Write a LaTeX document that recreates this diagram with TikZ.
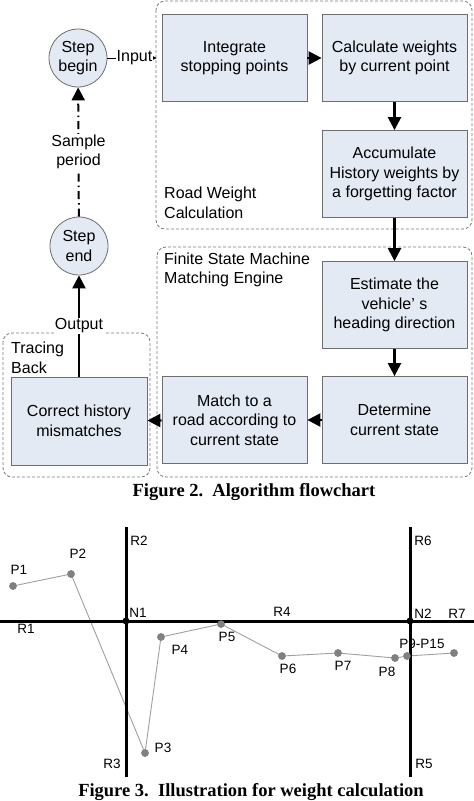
\documentclass[tikz,border=0pt]{standalone}
\usepackage{fontspec}
\setmainfont{Liberation Sans}
\newfontfamily\capfont{Liberation Serif}
\usetikzlibrary{arrows.meta}
\definecolor{boxfill}{HTML}{E4EAF4}
\definecolor{boxdraw}{HTML}{6E6E6E}
\definecolor{grp}{HTML}{7A7A7A}
\definecolor{trk}{HTML}{A0A0A0}
\definecolor{dotc}{HTML}{808080}
\begin{document}
\begin{tikzpicture}[x=1pt,y=-1pt,
  txt/.style={font=\fontsize{16}{19.5}\selectfont},
  procbox/.style={txt, draw=boxdraw, fill=boxfill, line width=0.8pt, minimum width=145pt, minimum height=87pt, align=center, inner sep=0pt},
  stepcirc/.style={txt, circle, draw=boxdraw, fill=boxfill, line width=0.8pt, minimum size=58pt, align=center, inner sep=0pt},
  grpbox/.style={draw=grp, dash pattern=on 3pt off 2pt, rounded corners=9pt, line width=0.8pt},
  grplabel/.style={txt, align=left, anchor=west, inner sep=0pt},
  flow/.style={line width=2.4pt, -{Triangle[length=13pt,width=13pt]}},
  dashdotflow/.style={line width=2pt, dash pattern=on 8pt off 4pt on 1.5pt off 4pt, -{Triangle[length=13pt,width=13pt]}},
  lbl/.style={txt, fill=white, inner sep=1pt, align=center},
  road/.style={line width=3pt},
  track/.style={draw=trk, line width=0.9pt},
  gdot/.style={circle, fill=dotc, inner sep=0pt, minimum size=7.5pt},
  ndot/.style={circle, fill=black, inner sep=0pt, minimum size=7pt},
  plbl/.style={font=\fontsize{13.5}{16}\selectfont, inner sep=0pt},
  caption/.style={font=\capfont\bfseries\fontsize{18.5}{22}\selectfont, inner sep=0pt}
]
\useasboundingbox (0,0) rectangle (474,801);

% group frames
\draw[grpbox] (156,1) rectangle (472,229);
\draw[grpbox] (157,247) rectangle (472,477);
\draw[grpbox] (3,333) rectangle (150,477);
\node[grplabel] (g1) at (164,203) {Road Weight\\Calculation};
\node[grplabel] (g2) at (164,270) {Finite State Machine\\Matching Engine};
\node[grplabel] (g3) at (11,358) {Tracing\\Back};

% process boxes
\node[procbox] (integ) at (234.5,58) {Integrate\\stopping points};
\node[procbox] (calc) at (394.5,58) {Calculate weights\\by current point};
\node[procbox] (accu) at (394.5,174) {Accumulate\\History weights by\\a forgetting factor};
\node[procbox] (esti) at (394.5,305) {Estimate the\\vehicle’\ s\\heading direction};
\node[procbox] (dete) at (394.5,420) {Determine\\current state};
\node[procbox] (matc) at (234.5,420) {Match to a\\road according to\\current state};
\node[procbox, minimum width=136pt, minimum height=88pt] (corr) at (79,421) {Correct history\\mismatches};

\node[stepcirc] (sbeg) at (78,58) {Step\\begin};
\node[stepcirc] (send) at (79,246) {Step\\end};

% connectors
\draw[line width=1pt, -{Triangle[length=7pt,width=7pt]}, shorten >=5pt] (sbeg) -- node[lbl] (inlbl) {Input} (integ);
\draw[flow] (integ) -- (calc);
\draw[flow] (calc) -- (accu);
\draw[flow] (accu) -- (esti);
\draw[flow] (esti) -- (dete);
\draw[flow] (dete) -- (matc);
\draw[flow] (matc) -- (corr);
\draw[flow] (corr) -- node[lbl] (outlbl) {Output} (send);
\draw[dashdotflow] (send) -- node[lbl] (splbl) {Sample\\period} (sbeg);

\node[caption] (cap2) at (254,492) {Figure 2.\ \ Algorithm flowchart};

% ---- Figure 3 ----
\node[gdot] (p1) at (13,586) {};
\node[gdot] (p2) at (71,574) {};
\node[gdot] (p3) at (145,753) {};
\node[gdot] (p4) at (161,637) {};
\node[gdot] (p5) at (221,624) {};
\node[gdot] (p6) at (282,656) {};
\node[gdot] (p7) at (338,653) {};
\node[gdot] (p8) at (395,658) {};
\node[gdot] (p9) at (407,656) {};
\node[gdot] (p10) at (454,653) {};
\draw[track] (p1.center) -- (p2.center) -- (p3.center) -- (p4.center) -- (p5.center) -- (p6.center) -- (p7.center) -- (p8.center) -- (p9.center) -- (p10.center);

\coordinate (r1) at (0,621);
\coordinate (r7) at (474,621);
\coordinate (r2) at (126,527);
\coordinate (r3) at (126,777);
\coordinate (r6) at (410,527);
\coordinate (r5) at (410,777);
\draw[road] (r1) -- (r7);
\draw[road] (r2) -- (r3);
\draw[road] (r6) -- (r5);
\node[ndot] (n1) at (126,621) {};
\node[ndot] (n2) at (410,621) {};

\foreach \n in {p1,p2,p3,p4,p5,p6,p7,p8,p9,p10} {\node[gdot] at (\n) {};}

\node[plbl] (lp1) at (19,570) {P1};
\node[plbl] (lp2) at (78,554) {P2};
\node[plbl] (lp3) at (163,748) {P3};
\node[plbl] (lp4) at (180,650) {P4};
\node[plbl] (lp5) at (227,637) {P5};
\node[plbl] (lp6) at (288,669) {P6};
\node[plbl] (lp7) at (343,666) {P7};
\node[plbl] (lp8) at (387,672) {P8};
\node[plbl] (lp9) at (422,644) {P9-P15};
\node[plbl] (lr1) at (26,629) {R1};
\node[plbl] (lr2) at (139,541) {R2};
\node[plbl] (lr3) at (112,764) {R3};
\node[plbl] (lr4) at (282,612) {R4};
\node[plbl] (lr5) at (424,764) {R5};
\node[plbl] (lr6) at (423,541) {R6};
\node[plbl] (lr7) at (457,614) {R7};
\node[plbl] (ln1) at (138,613) {N1};
\node[plbl] (ln2) at (423,614) {N2};

\node[caption] (cap3) at (251,792) {Figure 3.\ \ Illustration for weight calculation};
\end{tikzpicture}
\end{document}
